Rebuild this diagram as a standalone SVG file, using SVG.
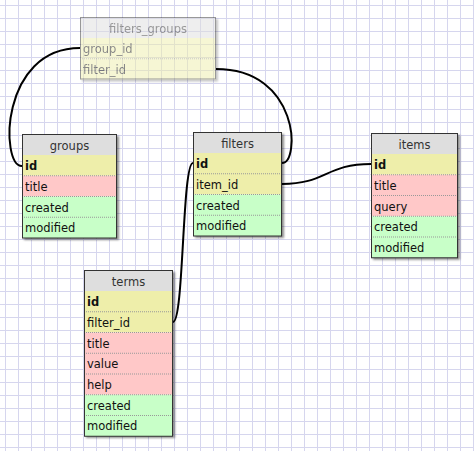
<svg xmlns="http://www.w3.org/2000/svg" width="474" height="451" viewBox="0 0 474 451">
<defs>
<pattern id="grid" width="13" height="13" patternUnits="userSpaceOnUse" x="5" y="5">
<rect width="13" height="13" fill="#ffffff"/>
<path d="M0,0.5 H13 M0.5,0 V13" stroke="#d6d6ee" stroke-width="1" fill="none"/>
</pattern>
<filter id="sh" x="-10%" y="-10%" width="130%" height="130%">
<feDropShadow dx="2" dy="2" stdDeviation="1.2" flood-color="#000" flood-opacity="0.45"/>
</filter>
</defs>
<style>
.frame{fill:none;stroke:#333;stroke-width:1}
.hd{fill:#dedede}
.y{fill:#eeeeaa}
.p{fill:#ffc8c8}
.g{fill:#c8ffc8}
.sep{stroke:#999;stroke-width:1;stroke-dasharray:1,1}
.hsep{stroke:#bbb;stroke-width:1}
text{font-family:"DejaVu Sans",Verdana,sans-serif;font-size:11.5px;fill:#111}
.ht{text-anchor:middle;fill:#333}
.pk{font-weight:bold}
.conn{fill:none;stroke:#000;stroke-width:2}
</style>
<rect width="474" height="451" fill="url(#grid)"/>

<g id="filters_groups" opacity="0.5">
<g filter="url(#sh)">
<rect x="80" y="17" width="136" height="62.5" fill="#fff"/>
</g>
<rect x="80" y="17" width="136" height="21" class="hd"/>
<rect x="80" y="38" width="136" height="41.5" class="y"/>
<line x1="80" y1="58.75" x2="216" y2="58.75" class="sep"/>
<rect x="80.5" y="17.5" width="135" height="61.5" class="frame"/>
<text x="148" y="33" class="ht">filters_groups</text>
<text x="83" y="53">group_id</text>
<text x="83" y="74">filter_id</text>
</g>

<g id="groups">
<g filter="url(#sh)"><rect x="22" y="134" width="95" height="104" fill="#fff"/></g>
<rect x="22" y="134" width="95" height="21" class="hd"/>
<rect x="22" y="155" width="95" height="20.75" class="y"/>
<rect x="22" y="175.75" width="95" height="20.75" class="p"/>
<rect x="22" y="196.5" width="95" height="41.5" class="g"/>
<line x1="22" y1="175.75" x2="117" y2="175.75" class="sep"/>
<line x1="22" y1="196.5" x2="117" y2="196.5" class="sep"/>
<line x1="22" y1="217.25" x2="117" y2="217.25" class="sep"/>
<rect x="22.5" y="134.5" width="94" height="103.5" class="frame"/>
<text x="69.5" y="150" class="ht">groups</text>
<text x="25" y="170" class="pk">id</text>
<text x="25" y="191">title</text>
<text x="25" y="211.5">created</text>
<text x="25" y="232">modified</text>
</g>

<g id="filters">
<g filter="url(#sh)"><rect x="193" y="132" width="89" height="104" fill="#fff"/></g>
<rect x="193" y="132" width="89" height="21" class="hd"/>
<rect x="193" y="153" width="89" height="41.5" class="y"/>
<rect x="193" y="194.5" width="89" height="41.5" class="g"/>
<line x1="193" y1="173.75" x2="282" y2="173.75" class="sep"/>
<line x1="193" y1="194.5" x2="282" y2="194.5" class="sep"/>
<line x1="193" y1="215.25" x2="282" y2="215.25" class="sep"/>
<rect x="193.5" y="132.5" width="88" height="103.5" class="frame"/>
<text x="237.5" y="148" class="ht">filters</text>
<text x="196" y="168" class="pk">id</text>
<text x="196" y="189">item_id</text>
<text x="196" y="209.5">created</text>
<text x="196" y="230">modified</text>
</g>

<g id="items">
<g filter="url(#sh)"><rect x="371" y="133" width="87" height="124.75" fill="#fff"/></g>
<rect x="371" y="133" width="87" height="21" class="hd"/>
<rect x="371" y="154" width="87" height="20.75" class="y"/>
<rect x="371" y="174.75" width="87" height="41.5" class="p"/>
<rect x="371" y="216.25" width="87" height="41.5" class="g"/>
<line x1="371" y1="174.75" x2="458" y2="174.75" class="sep"/>
<line x1="371" y1="195.5" x2="458" y2="195.5" class="sep"/>
<line x1="371" y1="216.25" x2="458" y2="216.25" class="sep"/>
<line x1="371" y1="237" x2="458" y2="237" class="sep"/>
<rect x="371.5" y="133.5" width="86" height="124.25" class="frame"/>
<text x="414.5" y="149" class="ht">items</text>
<text x="374" y="169" class="pk">id</text>
<text x="374" y="190">title</text>
<text x="374" y="210.5">query</text>
<text x="374" y="231">created</text>
<text x="374" y="252">modified</text>
</g>

<g id="terms">
<g filter="url(#sh)"><rect x="84" y="270" width="89" height="166" fill="#fff"/></g>
<rect x="84" y="270" width="89" height="21" class="hd"/>
<rect x="84" y="291" width="89" height="41.5" class="y"/>
<rect x="84" y="332.5" width="89" height="62.25" class="p"/>
<rect x="84" y="394.75" width="89" height="41.5" class="g"/>
<line x1="84" y1="311.75" x2="173" y2="311.75" class="sep"/>
<line x1="84" y1="332.5" x2="173" y2="332.5" class="sep"/>
<line x1="84" y1="353.25" x2="173" y2="353.25" class="sep"/>
<line x1="84" y1="374" x2="173" y2="374" class="sep"/>
<line x1="84" y1="394.75" x2="173" y2="394.75" class="sep"/>
<line x1="84" y1="415.5" x2="173" y2="415.5" class="sep"/>
<rect x="84.5" y="270.5" width="88" height="165.75" class="frame"/>
<text x="128.5" y="286" class="ht">terms</text>
<text x="87" y="306" class="pk">id</text>
<text x="87" y="327">filter_id</text>
<text x="87" y="347.5">title</text>
<text x="87" y="368">value</text>
<text x="87" y="389">help</text>
<text x="87" y="409.5">created</text>
<text x="87" y="430">modified</text>
</g>

<g id="connectors">
<path class="conn" d="M80,48 C0,48 0,166 22,166"/>
<path class="conn" d="M216,69 C300,69 300,163 282,163"/>
<path class="conn" d="M282,184 C326,184 326,164 371,164"/>
<path class="conn" d="M173,322 C184,322 182,163 193,163"/>
</g>
</svg>
